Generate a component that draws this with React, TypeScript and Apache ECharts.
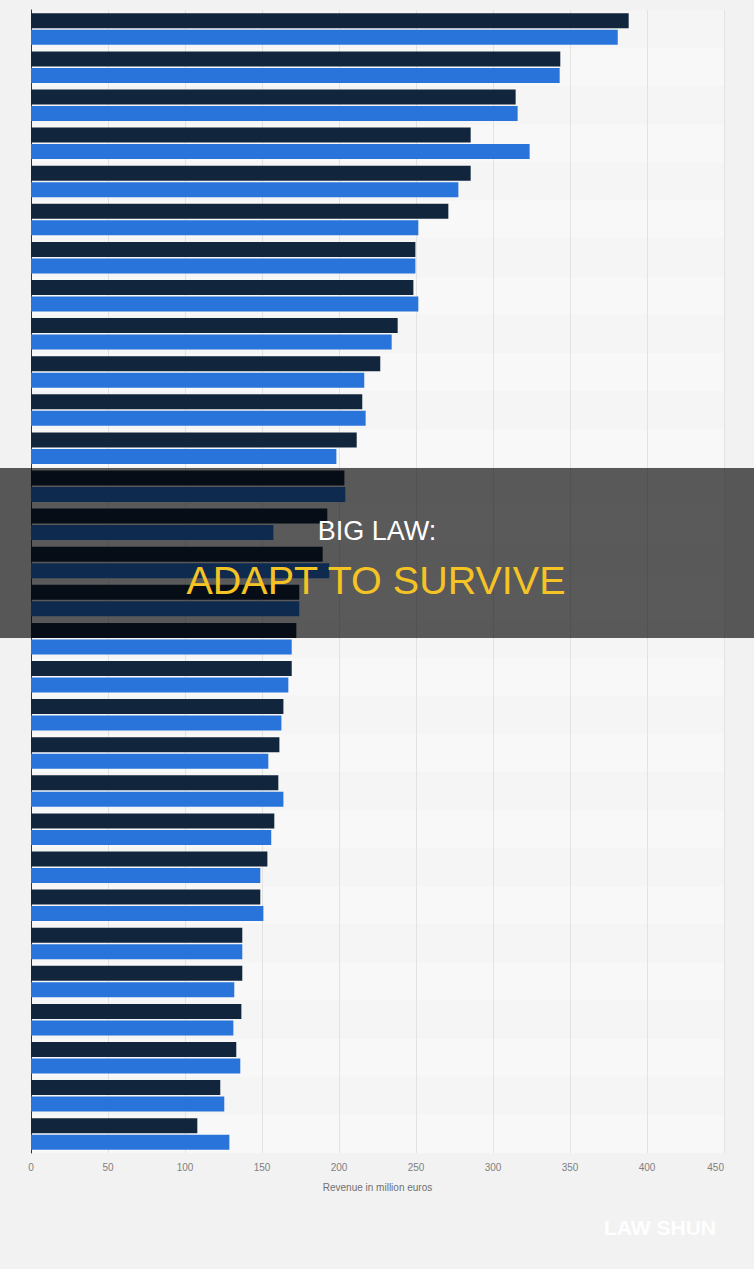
import React, { useEffect, useRef } from "react";
import * as echarts from "echarts";

const categories: string[] = Array.from({ length: 30 }, (_, i) => `Firm ${i + 1}`);

const seriesDarkName = "Previous year";
const seriesDark: number[] = [
  388.1, 343.7, 314.7, 285.5, 285.5, 271.0, 249.6, 248.3, 238.1, 226.8,
  215.1, 211.5, 203.5, 192.4, 189.4, 174.2, 172.3, 169.3, 163.9, 161.3,
  160.6, 158.0, 153.5, 148.9, 137.2, 137.2, 136.6, 133.3, 122.9, 108.0,
];

const seriesBlueName = "Current year";
const seriesBlue: number[] = [
  381.0, 343.3, 316.0, 323.8, 277.5, 251.5, 249.6, 251.5, 234.2, 216.4,
  217.3, 198.3, 204.1, 157.4, 193.7, 174.2, 169.3, 167.1, 162.6, 154.1,
  163.9, 156.0, 148.9, 150.9, 137.2, 132.0, 131.4, 135.9, 125.5, 128.8,
];

const axisTitle = "Revenue in million euros";
const bannerLine1 = "BIG LAW:";
const bannerLine2 = "ADAPT TO SURVIVE";
const watermark = "LAW SHUN";

export default function App() {
  const ref = useRef<HTMLDivElement>(null);

  useEffect(() => {
    if (!ref.current) return;
    const chart = echarts.init(ref.current, undefined, { renderer: "svg" });
    chart.setOption({
      animation: false,
      backgroundColor: "#f2f2f2",
      grid: { left: 31, right: 30, top: 10, bottom: 116, containLabel: false },
      xAxis: {
        type: "value",
        min: 0,
        max: 450,
        interval: 50,
        name: axisTitle,
        nameLocation: "middle",
        nameGap: 29,
        nameTextStyle: { color: "#707070", fontSize: 10, fontFamily: "Liberation Sans" },
        axisLine: { show: false },
        axisTick: { show: false },
        axisLabel: {
          color: "#808080",
          fontSize: 10,
          fontFamily: "Liberation Sans",
          margin: 9,
          alignMaxLabel: "right",
        },
        splitLine: { show: true, lineStyle: { color: "#e2e2e2", width: 1 } },
      },
      yAxis: {
        type: "category",
        data: categories,
        inverse: true,
        axisLine: { show: true, lineStyle: { color: "#333333", width: 1 } },
        axisTick: { show: false },
        axisLabel: { show: false },
        splitLine: { show: false },
        splitArea: { show: true, areaStyle: { color: ["#f5f5f5", "#f8f8f8"] } },
      },
      series: [
        {
          name: seriesDarkName,
          type: "bar",
          data: seriesDark,
          barWidth: 15,
          barGap: "10%",
          itemStyle: { color: "#11263d" },
        },
        {
          name: seriesBlueName,
          type: "bar",
          data: seriesBlue,
          barWidth: 15,
          barGap: "10%",
          itemStyle: { color: "#2874da" },
        },
      ],
      graphic: [
        {
          type: "rect",
          z: 100,
          shape: { x: 0, y: 468, width: 754, height: 170 },
          style: { fill: "rgba(0,0,0,0.64)" },
        },
        {
          type: "text",
          z: 101,
          x: 377,
          y: 531,
          style: {
            text: bannerLine1,
            fill: "#ffffff",
            font: '27px "Liberation Sans"',
            textAlign: "center",
            textVerticalAlign: "middle",
          },
        },
        {
          type: "text",
          z: 101,
          x: 376,
          y: 580,
          style: {
            text: bannerLine2,
            fill: "#f6c324",
            font: '39.5px "Liberation Sans"',
            textAlign: "center",
            textVerticalAlign: "middle",
          },
        },
        {
          type: "text",
          z: 101,
          x: 660,
          y: 1227,
          style: {
            text: watermark,
            fill: "rgba(255,255,255,0.95)",
            font: 'bold 21px "Liberation Sans"',
            textAlign: "center",
            textVerticalAlign: "middle",
          },
        },
      ],
    });
    return () => chart.dispose();
  }, []);

  return (
    <div
      ref={ref}
      style={{ position: "absolute", left: 0, top: 0, width: 754, height: 1269 }}
    />
  );
}
